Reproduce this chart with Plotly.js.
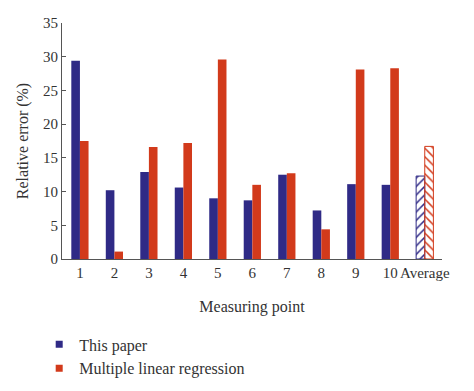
<!DOCTYPE html>
<html>
<head>
<meta charset="utf-8">
<script src="https://cdn.plot.ly/plotly-3.0.1.min.js"></script>
<style>html,body{margin:0;padding:0;background:#fff;}#chart{width:474px;height:391px;}</style>
</head>
<body>
<div id="chart"></div>
<script>
const categories = ["1","2","3","4","5","6","7","8","9","10","Average"];
const thisPaper = [29.4, 10.2, 12.9, 10.6, 9.0, 8.7, 12.5, 7.2, 11.1, 11.0, 12.3];
const mlr = [17.5, 1.1, 16.6, 17.2, 29.6, 11.0, 12.7, 4.4, 28.1, 28.3, 16.7];
const seriesNames = ["This paper", "Multiple linear regression"];
const yTicks = [0, 5, 10, 15, 20, 25, 30, 35];

const BLUE = "#2f2a86";
const RED = "#d23a1b";
const FONT = "Liberation Serif, Times New Roman, serif";
const TXT = "#333333";

function patternShapes(sym) {
  return categories.map(c => c === "Average" ? sym : "");
}
function lineWidths() {
  return categories.map(c => c === "Average" ? 1 : 0);
}

const traces = [
  {
    type: "bar", x: categories, y: thisPaper, name: seriesNames[0], showlegend: false,
    marker: { color: BLUE, line: { color: BLUE, width: lineWidths() },
      pattern: { shape: patternShapes("/"), size: 6, solidity: 0.25, fillmode: "replace" } }
  },
  {
    type: "bar", x: categories, y: mlr, name: seriesNames[1], showlegend: false,
    marker: { color: RED, line: { color: RED, width: lineWidths() },
      pattern: { shape: patternShapes("\\"), size: 6, solidity: 0.25, fillmode: "replace" } }
  },
  { type: "scatter", mode: "markers", x: [null], y: [null], name: seriesNames[0],
    marker: { symbol: "square", size: 7, color: BLUE } },
  { type: "scatter", mode: "markers", x: [null], y: [null], name: seriesNames[1],
    marker: { symbol: "square", size: 7, color: RED } }
];

const layout = {
  width: 474, height: 391,
  margin: { l: 62, r: 32, t: 23, b: 132, autoexpand: false },
  paper_bgcolor: "#fff", plot_bgcolor: "#fff",
  font: { family: FONT, size: 15, color: TXT },
  barmode: "group", bargap: 0.5, bargroupgap: 0,
  xaxis: {
    type: "category", range: [-0.52, 10.5], automargin: false,
    showline: true, linecolor: "#555", linewidth: 1, tickangle: 0,
    ticks: "", showgrid: false, zeroline: false,
    tickfont: { family: FONT, size: 15, color: TXT },
    title: { text: "Measuring point", font: { family: FONT, size: 16, color: TXT }, standoff: 20 }
  },
  yaxis: {
    range: [0, 35], tickvals: yTicks, ticktext: yTicks.map(String), automargin: false,
    showline: true, linecolor: "#555", linewidth: 1,
    ticks: "inside", ticklen: 4, tickcolor: "#555",
    showgrid: false, zeroline: false,
    tickfont: { family: FONT, size: 15, color: TXT },
    title: { text: "Relative error (%)", font: { family: FONT, size: 16, color: TXT }, standoff: 10 }
  },
  showlegend: true,
  legend: {
    x: -0.06, y: -0.29, xanchor: "left", yanchor: "top",
    font: { family: FONT, size: 16, color: TXT },
    bgcolor: "rgba(0,0,0,0)", tracegroupgap: 0, itemwidth: 30
  }
};

Plotly.newPlot("chart", traces, layout, { displayModeBar: false, staticPlot: true });
</script>
</body>
</html>
